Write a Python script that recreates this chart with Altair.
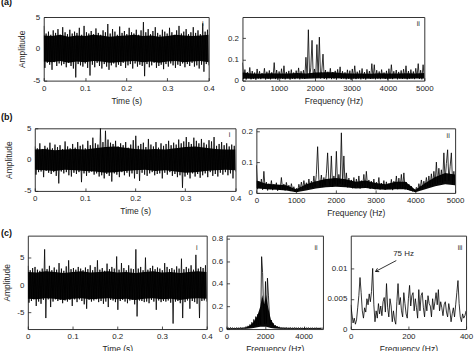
import altair as alt
import numpy as np
import pandas as pd

FONT = "Liberation Sans"
INK = "#262626"

# ---------------- data ----------------
# (a)-i time signal, amplitude in tenths, 0..0.4 s
A1_AMP = [36,-30,24,-22,27,-25,22,-33,29,-21,
          25,-27,31,-23,22,-26,34,-24,26,-29,
          23,-22,30,-27,24,-31,27,-45,25,-24,
          33,-26,22,-28,36,-23,26,-30,24,-42,
          28,-25,23,-29,32,-22,25,-27,22,-31,
          29,-24,26,-28,39,-33,24,-26,31,-23,
          27,-29,22,-25,35,-27,25,-22,28,-30,
          23,-26,33,-24,26,-31,24,-23,30,-28,
          22,-25,29,-27,42,-43,26,-24,31,-29,
          23,-26,28,-22,34,-30,25,-27,22,-25,
          30,-32,27,-24,24,-28,33,-23,26,-26,
          22,-30,29,-25,36,-27,24,-23,27,-29,
          31,-24,23,-27,26,-22,34,-28,25,-26,
          29,-31,23,-25,40,-36,27,-24,30,-26]
# dense core of (a)-i, every 0.02 s (tenths)
A1_CORE_HI = [21,20,22,19,21,20,22,21,19,20,21,22,20,21,19,20,22,21,20,21,22]
A1_CORE_LO = [-20,-21,-19,-22,-20,-21,-19,-20,-22,-21,-20,-19,-21,-20,-22,-20,-19,-21,-20,-19,-21]

# (a)-ii spectrum, thousandths, 0..5000 Hz
A2_SPEC = [85,8,52,5,40,12,62,6,45,9,
           38,4,55,10,44,7,36,12,58,5,
           42,9,48,6,39,11,85,7,50,4,
           43,10,56,8,70,6,41,12,46,5,
           52,9,38,7,47,11,60,6,44,10,
           49,8,110,12,240,15,60,190,14,55,
           12,170,18,205,10,45,125,8,50,6,
           42,11,58,7,40,9,46,5,53,12,
           65,8,44,10,39,6,51,9,47,4,
           55,11,70,7,42,10,48,6,57,9,
           40,5,53,12,45,8,80,10,75,6,
           49,9,43,7,52,11,38,8,46,5,
           56,10,75,7,44,12,50,6,41,9,
           48,8,54,11,70,6,45,9,52,10,
           43,7,58,12,80,8,49,6,75,11]
# dense core of (a)-ii, every 250 Hz (thousandths)
A2_CORE_HI = [38,34,32,35,33,34,36,33,38,40,40,35,33,34,32,35,33,34,35,33,36]
A2_CORE_LO = [10,9,10,9,10,9,10,9,10,11,11,10,9,10,9,10,9,10,9,10,10]

# (b)-i time signal, tenths
B1_AMP = [21,-24,18,-20,26,-19,17,-28,22,-18,
          19,-21,27,-23,18,-20,24,-26,20,-38,
          23,-19,17,-22,29,-20,21,-25,18,-27,
          25,-21,19,-23,28,-20,22,-36,24,-22,
          18,-26,30,-21,23,-19,35,-24,26,-22,
          24,-27,50,-25,28,-30,46,-23,32,-26,
          27,-35,25,-22,30,-24,21,-28,26,-20,
          23,-25,28,-21,19,-27,24,-22,31,-30,
          38,-23,22,-34,25,-21,27,-24,20,-26,
          33,-22,24,-20,21,-25,28,-23,19,-22,
          26,-30,22,-21,25,-24,30,-20,23,-26,
          27,-23,24,-28,32,-25,26,-45,29,-27,
          36,-24,28,-30,25,-22,35,-27,30,-23,
          26,-29,33,-25,27,-22,24,-28,31,-20,
          29,-26,36,-23,22,-27,25,-21,28,-24,
          23,-20,26,-25,21,-22,24,-30,22,-19]
B1_CORE_HI = [16,17,15,16,17,16,18,20,21,19,17,16,17,16,18,20,21,19,17,16,16]
B1_CORE_LO = [-16,-17,-18,-16,-17,-18,-19,-21,-20,-18,-17,-16,-18,-17,-19,-21,-20,-18,-17,-16,-17]

# (b)-ii spectrum, thousandths
B2_SPEC = [90,12,38,15,45,10,70,14,35,8,
           30,12,40,9,28,14,33,7,26,10,
           50,11,29,8,34,12,25,6,30,9,
           20,3,15,5,28,10,35,12,40,15,
           33,14,45,18,38,16,55,20,60,150,
           45,22,58,19,50,25,62,130,40,24,
           120,20,55,28,135,23,60,30,195,26,
           120,22,65,18,48,20,42,15,50,17,
           45,19,55,14,40,21,60,16,70,18,
           42,13,38,16,45,12,35,15,50,11,
           32,14,40,10,36,13,30,12,44,9,
           38,15,55,12,48,16,60,14,65,11,
           35,10,28,8,22,5,12,3,18,6,
           30,12,42,15,38,18,50,20,55,22,
           62,25,70,28,100,30,80,35,75,32,
           130,38,95,140,40,85,130,30,70,25]
B2_CORE_HI = [40,30,27,25,12,28,38,45,48,44,36,40,32,28,36,36,10,32,52,65,60]
B2_CORE_LO = [15,12,10,8,2,8,14,18,20,18,14,16,12,10,12,12,2,12,22,28,25]

# (c)-i time signal, tenths
C1_AMP = [35,-32,27,-29,31,-26,33,-38,28,-30,
          26,-34,30,-27,65,-60,29,-26,35,-40,
          27,-30,32,-26,28,-29,40,-27,30,-33,
          26,-28,34,-30,45,-27,29,-38,31,-26,
          28,-31,33,-26,30,-29,27,-35,32,-43,
          29,-27,36,-30,27,-28,33,-26,45,-31,
          28,-29,31,-34,26,-30,39,-40,29,-27,
          33,-28,30,-31,52,-45,28,-29,40,-27,
          31,-30,27,-33,36,-28,30,-27,29,-35,
          65,-57,30,-28,33,-29,27,-31,50,-30,
          28,-33,31,-27,35,-30,29,-45,32,-28,
          30,-31,27,-29,40,-30,33,-28,29,-32,
          31,-70,28,-30,34,-29,30,-33,48,-60,
          29,-31,33,-28,30,-43,36,-29,28,-31,
          55,-34,30,-60,33,-29,31,-28,36,-30]
C1_CORE_HI = [24,23,25,24,22,24,25,23,24,25,23,24,22,24,25,23,24,22,24,25,24]
C1_CORE_LO = [-25,-26,-24,-25,-27,-25,-24,-26,-25,-24,-26,-25,-27,-25,-24,-26,-25,-27,-25,-24,-25]

# (c)-ii spectrum, thousandths
C2_SPEC = [12,4,10,3,14,5,11,4,9,3,
           12,5,10,4,13,6,11,5,15,6,
           22,8,28,10,40,15,60,20,85,25,
           110,30,130,35,150,40,640,500,180,45,
           420,50,450,300,120,35,80,25,50,15,
           35,10,25,8,20,6,15,5,14,4,
           12,5,13,4,10,6,12,3,11,5,
           14,4,10,5,12,3,11,6,9,4,
           12,5,10,3,13,4,9,5,11,3,
           10,4,12,5,9,3,11,4,10,5]
C2_CORE_F = [0, 500, 1000, 1200, 1400, 1600, 1750, 1850, 1950, 2050, 2150, 2300, 2500, 2800, 3500, 4900]
C2_CORE_HI = [10, 10, 12, 30, 60, 120, 200, 300, 220, 300, 200, 80, 30, 12, 10, 10]
C2_CORE_LO = [2, 2, 3, 5, 10, 15, 20, 20, 20, 20, 15, 10, 5, 3, 2, 2]

# (c)-iii low-frequency spectrum, 1e-4 units, 0..400 Hz
C3_SPEC = [40,25,10,18,8,15,35,55,85,60,
           30,18,35,28,50,40,58,45,62,100,
           40,12,30,18,42,25,38,22,45,52,
           28,75,35,20,50,38,12,30,15,8,
           45,75,40,52,30,20,60,42,25,18,
           50,72,38,55,60,30,50,35,18,65,
           30,55,60,35,20,48,30,55,42,38,
           20,50,32,45,60,40,65,30,45,35,
           22,40,45,28,20,42,30,12,25,35,
           20,40,60,80,42,20,12,25,18,22,
           30]

TIME_TICKS = [0, 0.1, 0.2, 0.3, 0.4]
FREQ_TICKS = [0, 1000, 2000, 3000, 4000, 5000]
FREQ_TICKS_C = [0, 2000, 4000]
LOWF_TICKS = [0, 100, 200, 300, 400]
AMP_TICKS = [-5, 0, 5]

NOTE_TEXT = ["75 Hz"]
NOTE_X = [183]
NOTE_Y = [0.0123]
ARROW_FROM = (158, 0.0113)
ARROW_TO = (86, 0.0095)


def series(vals, xmax, div):
    return pd.DataFrame({"x": np.linspace(0, xmax, len(vals)),
                         "y": np.array(vals, dtype=float) / div})


def band(lo, hi, xmax, div, xs=None):
    if xs is None:
        xs = np.linspace(0, xmax, len(lo))
    return pd.DataFrame({"x": xs,
                         "y": np.array(lo, dtype=float) / div,
                         "y2": np.array(hi, dtype=float) / div})


def axis(vals, title, tpad, lpad=4):
    kw = dict(values=vals, grid=False, domain=False, ticks=True, tickSize=3,
              tickWidth=0.8, tickColor="#222", offset=-3, labelPadding=lpad,
              labelFlush=False, labelOverlap=False, labelFont=FONT,
              labelFontSize=8, labelColor=INK, labelExpr="'' + datum.value",
              titleFont=FONT, titleFontSize=8.5, titleFontWeight="normal",
              titleColor=INK, titlePadding=tpad)
    return alt.Axis(title=title, **kw)


def panel(df, core, w, h, xdom, ydom, xticks, yticks, xtitle, ytitle, tag,
          tag_dx, tag_y, ytpad=5, extra=()):
    ex = alt.X("x:Q", scale=alt.Scale(domain=xdom, nice=False, zero=False),
               axis=axis(xticks, xtitle, 4))
    ey = alt.Y("y:Q", scale=alt.Scale(domain=ydom, nice=False, zero=False),
               axis=axis(yticks, ytitle, ytpad))
    layers = []
    if core is not None:
        layers.append(alt.Chart(core).mark_area(color="#0a0a0a", clip=True,
                                                interpolate="linear").encode(
            x=ex, y=ey, y2="y2:Q"))
    layers.append(alt.Chart(df).mark_line(color="#000", strokeWidth=0.8,
                                          clip=True).encode(x=ex, y=ey))
    lab = alt.Chart(pd.DataFrame({"t": [tag]})).mark_text(
        font=FONT, fontSize=7, color=INK, align="center", baseline="middle"
    ).encode(text="t:N", x=alt.value(w - tag_dx), y=alt.value(tag_y))
    layers.append(lab)
    layers.extend(extra)
    return alt.layer(*layers).properties(width=w, height=h)


def spacer(w, h, tag="", ty=0, tx=0):
    return alt.Chart(pd.DataFrame({"t": [tag]})).mark_text(
        font=FONT, fontSize=9, fontWeight="bold", color="#111",
        align="left", baseline="middle"
    ).encode(text="t:N", x=alt.value(tx), y=alt.value(ty)).properties(
        width=w, height=h, view=alt.ViewBackground(stroke="transparent"))


a1 = panel(series(A1_AMP, 0.4, 10), band(A1_CORE_LO, A1_CORE_HI, 0.4, 10),
           166, 64, [0, 0.4], [-5, 5], TIME_TICKS,
           AMP_TICKS, "Time (s)", "Amplitude", "i", 6, 7, ytpad=6)
a2 = panel(series(A2_SPEC, 5000, 1000), band(A2_CORE_LO, A2_CORE_HI, 5000, 1000),
           183, 64, [0, 5000], [0, 0.3], FREQ_TICKS,
           [0, 0.1, 0.2], "Frequency (Hz)", None, "ii", 6, 7)
b1 = panel(series(B1_AMP, 0.4, 10), band(B1_CORE_LO, B1_CORE_HI, 0.4, 10),
           202, 63, [0, 0.4], [-5, 5], TIME_TICKS,
           AMP_TICKS, "Time (s)", "Amplitude", "i", 6, 7, ytpad=10)
b2 = panel(series(B2_SPEC, 5000, 1000), band(B2_CORE_LO, B2_CORE_HI, 5000, 1000),
           200, 65, [0, 5000], [0, 0.2097], FREQ_TICKS,
           [0, 0.1, 0.2], "Frequency (Hz)", None, "ii", 7, 8)
c1 = panel(series(C1_AMP, 0.4, 10), band(C1_CORE_LO, C1_CORE_HI, 0.4, 10),
           180, 94, [0, 0.4], [-8, 9], TIME_TICKS,
           AMP_TICKS, "Time (s)", "Amplitude", "i", 10, 12, ytpad=5)
c2 = panel(series(C2_SPEC, 5000, 1000),
           band(C2_CORE_LO, C2_CORE_HI, 5000, 1000, xs=C2_CORE_F),
           97, 94, [0, 5000], [0, 0.826], FREQ_TICKS_C,
           [0, 0.2, 0.4, 0.6, 0.8], "Frequency (Hz)", None, "ii", 7, 12)

note = alt.Chart(pd.DataFrame({"x": NOTE_X, "y": NOTE_Y, "t": NOTE_TEXT})).mark_text(
    font=FONT, fontSize=8, color=INK).encode(x="x:Q", y="y:Q", text="t:N")
arrow = alt.Chart(pd.DataFrame({"x": [ARROW_FROM[0]], "y": [ARROW_FROM[1]],
                                "x2": [ARROW_TO[0]], "y2": [ARROW_TO[1]]})).mark_rule(
    color="#000", strokeWidth=0.8).encode(x="x:Q", y="y:Q", x2="x2:Q", y2="y2:Q")
head = alt.Chart(pd.DataFrame({"x": [ARROW_TO[0]], "y": [ARROW_TO[1]]})).mark_point(
    shape="M-0.6,1L0,0L0.6,1", filled=False, size=40, angle=242, strokeWidth=0.8,
    color="#000", opacity=1).encode(x="x:Q", y="y:Q")

c3 = panel(series(C3_SPEC, 400, 10000), None, 116, 94, [0, 400], [0, 0.01541],
           LOWF_TICKS, [0, 0.005, 0.01], "Frequency (Hz)", None, "iii", 6, 12,
           extra=(note, arrow, head))

row_a = alt.hconcat(spacer(43, 64, "(a)", -15), a1, spacer(34, 64), a2,
                    spacing=0, bounds="flush")
row_b = alt.hconcat(spacer(34, 92, "(b)", -11), b1, spacer(21, 63), b2,
                    spacing=0, bounds="flush")
row_c = alt.hconcat(spacer(27, 94, "(c)", -3), c1, spacer(20, 94), c2,
                    spacer(28, 94), c3, spacing=0, bounds="flush")

chart = alt.vconcat(row_a, row_b, row_c, spacing=7).properties(
    padding={"left": 0, "top": -4, "right": 0, "bottom": 0},
    background="white",
).configure_view(stroke="#333", strokeWidth=1)

chart.save("out.html", embed_options={"renderer": "svg", "actions": False})
